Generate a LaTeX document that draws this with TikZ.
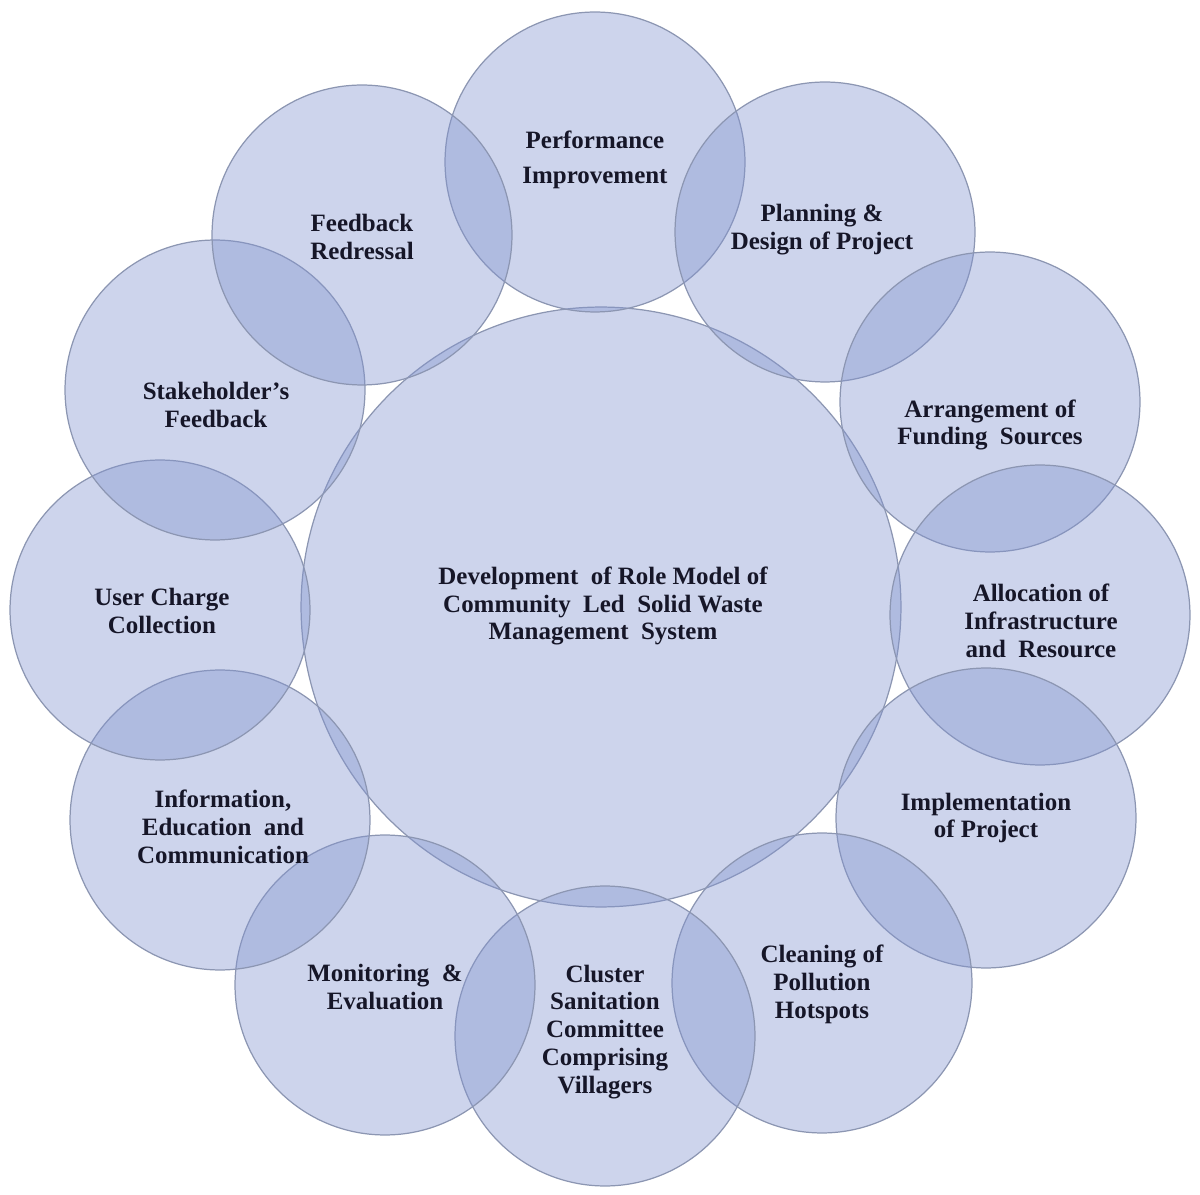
\documentclass[tikz,border=0pt]{standalone}
\usepackage{fontspec}
\setmainfont{Liberation Serif}
\definecolor{circfill}{RGB}{130,148,207}
\definecolor{circline}{RGB}{140,150,178}
\definecolor{txt}{RGB}{22,22,40}
\begin{document}
\begin{tikzpicture}[x=0.02cm,y=-0.02cm,
  ring/.style={circle,draw=circline,line width=0.7pt,fill=circfill,fill opacity=0.4,
    inner sep=0pt,outer sep=0pt,minimum size=6cm},
  hub/.style={ring,minimum size=12cm},
  lbl/.style={align=center,text=txt,inner sep=0pt,
    font=\fontsize{14.2}{15.9}\selectfont\bfseries}]
\useasboundingbox (0,0) rectangle (1200,1195);
% central circle
\node[hub] (hubc) at (601,607) {};
% outer ring of circles
\foreach \nm/\px/\py in {c1/595/162,c2/825/232,c3/990/402,c4/1040/615,c5/986/818,c6/822/983,
  c7/605/1036,c8/385/985,c9/220/820,c10/160/610,c11/215/390,c12/362/235}{
  \node[ring] (\nm) at (\px,\py) {};
}
% labels
\node[lbl,font=\fontsize{14.2}{19.5}\selectfont\bfseries] (t1) at (595,160) {Performance\\Improvement};
\node[lbl] (t2) at (822,230) {Planning \&\\Design of Project};
\node[lbl] (t3) at (990,425) {Arrangement of\\Funding\ \ Sources};
\node[lbl] (t4) at (1041,621) {Allocation of\\Infrastructure\\and\ \ Resource};
\node[lbl] (t5) at (986,818) {Implementation\\of Project};
\node[lbl] (t6) at (822,984) {Cleaning of\\Pollution\\Hotspots};
\node[lbl] (t7) at (605,1032) {Cluster\\Sanitation\\Committee\\Comprising\\Villagers};
\node[lbl] (t8) at (385,987) {Monitoring\ \ \&\\Evaluation};
\node[lbl] (t9) at (223,827) {Information,\\Education\ \ and\\Communication};
\node[lbl] (t10) at (162,611) {User Charge\\Collection};
\node[lbl] (t11) at (216,405) {Stakeholder’s\\Feedback};
\node[lbl] (t12) at (362,237) {Feedback\\Redressal};
\node[lbl] (tc) at (603,606) {Development\ \ of Role Model of\\Community\ \ Led\ \ Solid Waste\\Management\ \ System};
\end{tikzpicture}
\end{document}
